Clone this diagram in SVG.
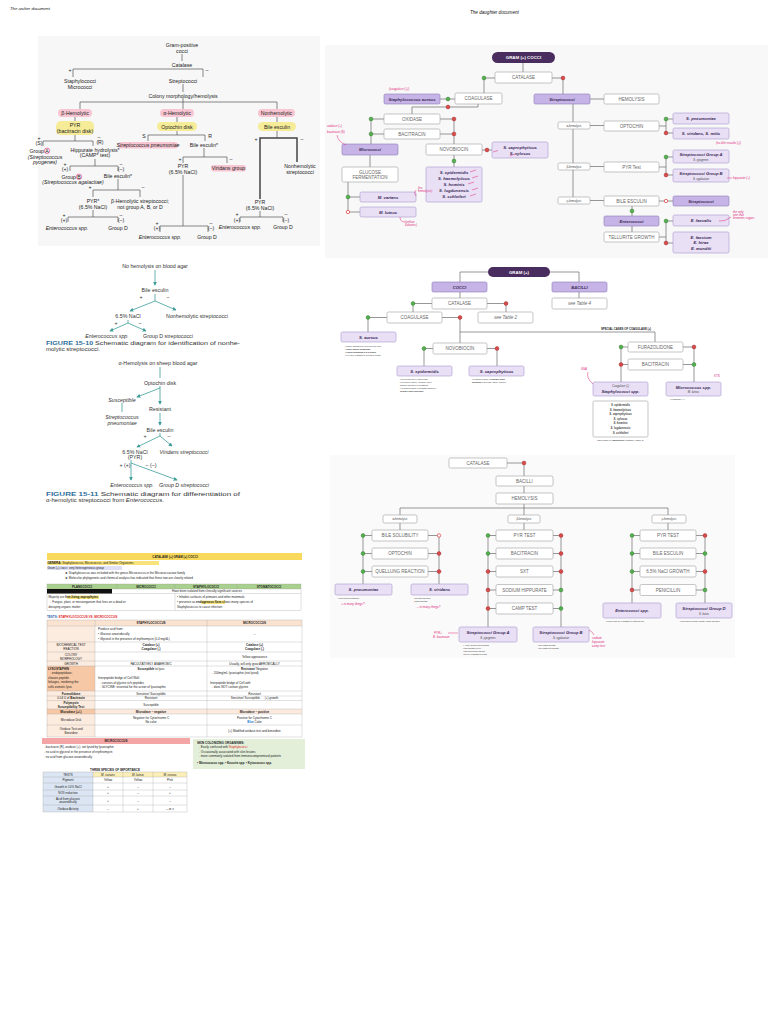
<svg xmlns="http://www.w3.org/2000/svg" width="768" height="1024" viewBox="0 0 768 1024">
<defs>
<style>
text{font-family:"Liberation Sans",Arial,sans-serif}
.tl{font-size:5.2px;fill:#222;text-anchor:middle}
.tli{font-size:5.2px;fill:#222;text-anchor:middle;font-style:italic}
.ln{stroke:#555;stroke-width:0.7;fill:none}
.lnb{stroke:#444;stroke-width:1.5;fill:none}
.pk{fill:#f8c6d3}
.yl{fill:#f6ec98}
.tm{font-size:5.3px;fill:#333;text-anchor:middle}
.tmi{font-size:5.3px;fill:#333;text-anchor:middle;font-style:italic}
.tt{stroke:#3e9d99;stroke-width:0.8;fill:none}
.tta{stroke:#3e9d99;stroke-width:0.8;fill:none;marker-end:url(#ta)}
.cap{font-size:6px;fill:#333}
.capb{font-weight:bold;fill:#2c6e9c}
.wb{fill:#fff;stroke:#a0a0a0;stroke-width:0.6}
.pb{fill:#c6b4e6;stroke:#8e7bbb;stroke-width:0.6}
.lp{fill:#e9e0f6;stroke:#a898cc;stroke-width:0.6}
.dp{fill:#4a2d5f}
.bt{font-size:4.5px;fill:#666;text-anchor:middle}
.pt{font-size:4.2px;fill:#3a2a56;text-anchor:middle;font-weight:bold;font-style:italic}
.st{font-size:2.8px;fill:#444;text-anchor:middle;font-style:italic}
.wt{font-size:4.4px;fill:#fff;text-anchor:middle;font-weight:bold}
.sm{font-size:3px;fill:#333;text-anchor:middle}
.cn{stroke:#6a6a6a;stroke-width:0.7;fill:none}
.g{fill:#55b04f;stroke:#2f7d2c;stroke-width:0.5}
.r{fill:#dc4b4b;stroke:#9e2a2a;stroke-width:0.5}
.ro{fill:#fff;stroke:#dc4b4b;stroke-width:0.8}
.tiny{font-size:2.2px;fill:#333}
.hw{font-size:3px;fill:#e0287a;font-style:italic}
.hwl{stroke:#e0287a;stroke-width:0.5;fill:none}
.tx{font-size:3px;fill:#222}
.txc{font-size:3px;fill:#222;text-anchor:middle}
.b{font-weight:bold}
.tb{stroke:#999;stroke-width:0.3;fill:none}
</style>
<marker id="ta" viewBox="0 0 6 6" refX="5" refY="3" markerWidth="5" markerHeight="5" orient="auto"><path d="M0,0 L6,3 L0,6 z" fill="#3e9d99"/></marker>
</defs>
<rect x="0" y="0" width="768" height="1024" fill="#fff"/>

<!-- headers -->
<text x="10" y="10" font-size="4.2" fill="#111" font-style="italic">The archer document</text>
<text x="470" y="14" font-size="4.6" fill="#111" font-style="italic">The daughter document</text>

<!-- ========== TOP-LEFT FLOWCHART ========== -->
<rect x="38" y="36" width="282" height="210" fill="#f7f7f7"/>
<g id="tl-connectors">
<path class="ln" d="M182,54 V61 M73,77 V69 H203 V77 M183,84 V92 M183,98 V102 M80,109 V102 H277 V109 M183,102 V109"/>
<path class="ln" d="M75,117 V121 M177,117 V122 M277,117 V122"/>
<path class="ln" d="M75,135 V141 M43,146 V141 H93 V146 M95,159 V166 M70,171 V166 H118 V171 M118,179 V190 M93,197 V190 H140 V197 M93,210 V217 M68,222 V217 H118 V222"/>
<path class="ln" d="M177,131 V135 M148,141 V135 H205 V141 M204,148 V157 M183,163 V157 H227 V163 M183,175 V226 M160,232 V226 H208 V232"/>
<path class="ln" d="M277,131 V138 M260,217 V211"/>
<path class="lnb" d="M297,162 V138 H260 V199"/>
<path class="ln" d="M240,222 V217 H283 V222"/>
</g>
<g id="tl-root"><text class="tl" x="182" y="47">Gram-positive</text><text class="tl" x="182" y="53">cocci</text></g>
<g id="tl-catalase"><text class="tl" x="182" y="66.5">Catalase</text><text class="tl" x="70" y="72">+</text><text class="tl" x="207" y="72">–</text></g>
<g id="tl-staph"><text class="tl" x="80" y="83">Staphylococci</text><text class="tl" x="80" y="89">Micrococci</text></g>
<g id="tl-strep"><text class="tl" x="183" y="83">Streptococci</text></g>
<g id="tl-colony"><text class="tl" x="183" y="97.5">Colony morphology/hemolysis</text></g>
<g id="tl-beta"><rect class="pk" x="58" y="109" width="34" height="8" rx="4"/><text class="tl" x="75" y="115">β-Hemolytic</text></g>
<g id="tl-alpha"><rect class="pk" x="160" y="109" width="34" height="8" rx="4"/><text class="tl" x="177" y="115">α-Hemolytic</text></g>
<g id="tl-non"><rect class="pk" x="258" y="109" width="37" height="8" rx="4"/><text class="tl" x="276.5" y="115">Nonhemolytic</text></g>
<g id="tl-pyr"><rect class="yl" x="56" y="121" width="38" height="14" rx="5"/><text class="tl" x="75" y="127">PYR</text><text class="tl" x="75" y="132.5">(bacitracin disk)</text></g>
<g id="tl-opto"><rect class="yl" x="157" y="122" width="40" height="9" rx="4.5"/><text class="tl" x="177" y="128.5">Optochin disk</text></g>
<g id="tl-bile1"><rect class="yl" x="258" y="122" width="38" height="9" rx="4.5"/><text class="tl" x="277" y="128.5">Bile esculin</text></g>
<g id="tl-groupA"><text class="tl" x="39" y="140">+</text><text class="tl" x="39" y="144.5">(S)</text><text class="tl" x="99" y="139">–</text><text class="tl" x="100" y="143.5">(R)</text>
<text class="tl" x="44" y="152.5" text-anchor="end" style="text-anchor:end">Group</text><circle cx="47" cy="150.8" r="2.7" fill="none" stroke="#e0287a" stroke-width="0.6"/><text class="tl" x="47" y="152.5">A</text>
<text class="tli" x="45" y="158.5">(Streptococcus</text><text class="tli" x="45" y="164">pyogenes)</text></g>
<g id="tl-hipp"><text class="tl" x="95" y="151.5">Hippurate hydrolysis*</text><text class="tl" x="95" y="157">(CAMP* test)</text></g>
<g id="tl-groupB"><text class="tl" x="65" y="165.5">+</text><text class="tl" x="65" y="171">(+)</text><text class="tl" x="121" y="165.5">–</text><text class="tl" x="121" y="171">(–)</text>
<text class="tl" x="76" y="178.5" style="text-anchor:end">Group</text><circle cx="79" cy="176.8" r="2.7" fill="none" stroke="#e0287a" stroke-width="0.6"/><text class="tl" x="79" y="178.5">B</text>
<text class="tli" x="73" y="184">(Streptococcus agalactiae)</text></g>
<g id="tl-bile2"><text class="tl" x="118" y="178">Bile esculin*</text><text class="tl" x="90" y="189">+</text><text class="tl" x="143" y="189">–</text></g>
<g id="tl-pyr2"><text class="tl" x="93" y="202.5">PYR*</text><text class="tl" x="93" y="208.5">(6.5% NaCl)</text></g>
<g id="tl-betanot"><text class="tl" x="140" y="202.5">β-Hemolytic streptococci;</text><text class="tl" x="140" y="208.5">not group A, B, or D</text></g>
<g id="tl-ent1"><text class="tl" x="64" y="217">+</text><text class="tl" x="64" y="222">(+)</text><text class="tl" x="121" y="217">–</text><text class="tl" x="121" y="222">(–)</text><text class="tli" x="67" y="229.5">Enterococcus spp.</text><text class="tl" x="118" y="229.5">Group D</text></g>
<g id="tl-pneumo"><text class="tl" x="144" y="138">S</text><text class="tl" x="210" y="138">R</text><rect class="pk" x="118" y="142" width="60" height="6.5" rx="3"/><text class="tli" x="148" y="147">Streptococcus pneumoniae</text></g>
<g id="tl-bile3"><text class="tl" x="204" y="147">Bile esculin*</text><text class="tl" x="180" y="161">+</text><text class="tl" x="231" y="161">–</text></g>
<g id="tl-pyr3"><text class="tl" x="183" y="167.5">PYR</text><text class="tl" x="183" y="173.5">(6.5% NaCl)</text></g>
<g id="tl-viridans"><rect class="pk" x="211" y="165" width="35" height="6.5" rx="3"/><text class="tl" x="228.5" y="170">Viridans group</text></g>
<g id="tl-ent2"><text class="tl" x="157" y="224.5">+</text><text class="tl" x="157" y="229.5">(+)</text><text class="tl" x="211" y="224.5">–</text><text class="tl" x="211" y="229.5">(–)</text><text class="tli" x="160" y="238.5">Enterococcus spp.</text><text class="tl" x="207" y="238.5">Group D</text></g>
<g id="tl-nonstrep"><text class="tl" x="256" y="141">+</text><text class="tl" x="302" y="141">–</text><text class="tl" x="300" y="167.5">Nonhemolytic</text><text class="tl" x="300" y="173.5">streptococci</text></g>
<g id="tl-pyr4"><text class="tl" x="260" y="203.5">PYR</text><text class="tl" x="260" y="209.5">(6.5% NaCl)</text></g>
<g id="tl-ent3"><text class="tl" x="237" y="216">+</text><text class="tl" x="237" y="221.5">(+)</text><text class="tl" x="286" y="216">–</text><text class="tl" x="286" y="221.5">(–)</text><text class="tli" x="240" y="228.5">Enterococcus spp.</text><text class="tl" x="283" y="228.5">Group D</text></g>

<!-- ========== LEFT-MIDDLE (FIGURES 15-10, 15-11) ========== -->
<g id="lm-connectors">
<path class="tta" d="M155,270 V285"/>
<path class="tt" d="M155,294 V301"/>
<path class="tta" d="M155,301 L130,311"/><path class="tta" d="M155,301 L176,310"/>
<path class="tt" d="M128,320 V323"/>
<path class="tta" d="M128,323 L110,331"/><path class="tta" d="M128,323 L146,331"/>
<path class="tt" d="M160,367 V378 M160,386 V388 M122,403 V412"/>
<path class="tta" d="M160,388 L137,397"/><path class="tta" d="M160,388 V404"/>
<path class="tta" d="M160,413 V425"/>
<path class="tt" d="M160,433 V436"/>
<path class="tta" d="M160,436 L137,447"/><path class="tta" d="M160,436 L172,446"/>
<path class="tt" d="M131,460 V463"/>
<path class="tta" d="M131,463 V480"/><path class="tta" d="M131,463 L177,480"/>
</g>
<g id="lm-nohemo"><text class="tm" x="155" y="268">No hemolysis on blood agar</text></g>
<g id="lm-bile1"><text class="tm" x="155" y="291.5">Bile esculin</text><text class="tm" x="141" y="298.5">+</text><text class="tm" x="168" y="298.5">–</text></g>
<g id="lm-nacl1"><text class="tm" x="128" y="317.5">6.5% NaCl</text><text class="tm" x="116" y="325">+</text><text class="tm" x="140" y="325">–</text></g>
<g id="lm-nonstrep"><text class="tm" x="197" y="317.5">Nonhemolytic streptococci</text></g>
<g id="lm-ent1"><text class="tmi" x="107" y="338">Enterococcus spp.</text></g>
<g id="lm-grd1"><text class="tm" x="168" y="338">Group D streptococci</text></g>
<text class="cap" x="46" y="344.5" textLength="194" lengthAdjust="spacingAndGlyphs"><tspan class="capb">FIGURE 15-10</tspan> Schematic diagram for identification of nonhe-</text>
<text class="cap" x="46" y="351">molytic streptococci.</text>
<g id="lm-alpha"><text class="tm" x="158" y="364.5">α-Hemolysis on sheep blood agar</text></g>
<g id="lm-opto"><text class="tm" x="160" y="385">Optochin disk</text></g>
<g id="lm-susc"><text class="tmi" x="122" y="401.5">Susceptible</text></g>
<g id="lm-pneumo"><text class="tmi" x="122" y="418.5">Streptococcus</text><text class="tmi" x="122" y="424.5">pneumoniae</text></g>
<g id="lm-resist"><text class="tm" x="160" y="411">Resistant</text></g>
<g id="lm-bile2"><text class="tm" x="160" y="431.5">Bile esculin</text><text class="tm" x="145" y="438">+</text><text class="tm" x="169" y="438">–</text></g>
<g id="lm-nacl2"><text class="tm" x="135" y="453.5">6.5% NaCl</text><text class="tm" x="135" y="459">(PYR)</text><text class="tm" x="125" y="467">+ (+)</text><text class="tm" x="151" y="467">– (–)</text></g>
<g id="lm-viridans"><text class="tmi" x="184" y="453.5">Viridans streptococci</text></g>
<g id="lm-ent2"><text class="tmi" x="132" y="486.5">Enterococcus spp.</text></g>
<g id="lm-grd2"><text class="tmi" x="184" y="486.5">Group D streptococci</text></g>
<text class="cap" x="46" y="495.5" textLength="194" lengthAdjust="spacingAndGlyphs"><tspan class="capb">FIGURE 15-11</tspan> Schematic diagram for differentiation of</text>
<text class="cap" x="46" y="502">α-hemolytic streptococci from <tspan font-style="italic">Enterococcus</tspan>.</text>

<!-- ========== NOTES TABLE (LEFT BOTTOM) ========== -->
<g id="notes">
<rect x="47" y="553" width="255" height="7" fill="#f8d95c"/>
<text class="txc b" x="175" y="558.3" font-size="3.6">CATALASE (+) GRAM (+) COCCI</text>
<rect x="47" y="561" width="112" height="4" fill="#f8e27a"/>
<text class="tx" x="47.5" y="564.2"><tspan class="b">GENERA:</tspan> Staphylococcus, Micrococcus, and Similar Organisms</text>
<rect x="47" y="566" width="75" height="4" fill="#dfe0f5"/>
<text class="tx" x="47.5" y="569.2">Gram (+) cocci: very heterogeneous group</text>
<text class="tx" x="65" y="574">❖ Staphylococcus was included with the genus Micrococcus in the Micrococcaceae family</text>
<text class="tx" x="65" y="579">❖ Molecular phylogenetic and chemical analysis has indicated that these two are closely related</text>

<rect x="47" y="584" width="254" height="5" fill="#a9d08e"/>
<rect x="47" y="584" width="254" height="26.5" class="tb"/>
<path class="tb" d="M117,584 V589 M175,584 V589 M237,584 V589 M47,589 H301 M47,593.5 H301 M175,593.5 V610.5"/>
<text class="txc b" x="82" y="587.6" font-size="2.8">PLANOCOCCI</text>
<text class="txc b" x="146" y="587.6" font-size="2.8">MICROCOCCI</text>
<text class="txc b" x="206" y="587.6" font-size="2.8">STAPHYLOCOCCI</text>
<text class="txc b" x="269" y="587.6" font-size="2.8">STOMATOCOCCI</text>
<rect x="47" y="589" width="65" height="4.5" fill="#111"/>
<text class="txc" x="207" y="592.4">Have been isolated from clinically significant sources</text>
<rect x="67" y="595.6" width="32" height="3.4" fill="#f8e27a"/>
<text class="tx" x="48.5" y="598.3">Majority are <tspan class="b">free-living saprophytes</tspan></text>
<text class="tx" x="48.5" y="603.3">→ Fungus, plant, or microorganism that lives on a dead or</text>
<text class="tx" x="48.5" y="608.3">decaying organic matter</text>
<text class="tx" x="177" y="598.3">• Inhabits surfaces of primates and other mammals</text>
<rect x="201" y="600.6" width="24" height="3.4" fill="#f8e27a"/>
<text class="tx" x="177" y="603.3">• presence as <tspan class="b">endogenous flora</tspan> allows many species of</text>
<text class="tx" x="177" y="608.3">Staphylococcus to cause infection</text>

<text class="tx b" x="47" y="617.6" font-size="3.3"><tspan fill="#2b5ea8">TESTS:</tspan> <tspan fill="#e02020">STAPHYLOCOCCUS VS. MICROCOCCUS</tspan></text>
<rect x="47" y="620" width="255" height="6" fill="#fbe3d1"/>
<rect x="47" y="626" width="48" height="111" fill="#fcebdf"/>
<rect x="47" y="666" width="48" height="25" fill="#f7c8a6"/>
<rect x="47" y="709" width="255" height="5" fill="#fdeadf"/>
<rect x="47" y="709" width="48" height="5" fill="#f7c8a6"/>
<rect x="47" y="620" width="255" height="117" class="tb"/>
<path class="tb" d="M95,620 V737 M207,620 V737 M47,626 H302 M47,642 H302 M47,652 H302 M47,661 H302 M47,666 H302 M47,691 H302 M47,696 H302 M47,700.5 H302 M47,709 H302 M47,714 H302 M47,725 H302"/>
<text class="txc b" x="151" y="624.2">STAPHYLOCOCCUS</text>
<text class="txc b" x="254.5" y="624.2">MICROCOCCUS</text>
<text class="tx" x="98" y="629.5">Produce acid from:</text>
<text class="tx" x="98" y="634.5">• Glucose anaerobically</text>
<text class="tx" x="98" y="639.5">• Glycerol in the presence of erythromycin (0.4 mg/dL)</text>
<text class="txc" x="254.5" y="635">–</text>
<text class="txc" x="71" y="645.8">BIOCHEMICAL TEST</text><text class="txc" x="71" y="650">REACTION</text>
<text class="txc b" x="151" y="645.8">Catalase (+)</text><text class="txc b" x="151" y="650">Coagulase (-)</text>
<text class="txc b" x="254.5" y="645.8">Catalase (+)</text><text class="txc b" x="254.5" y="650">Coagulase (-)</text>
<text class="txc" x="71" y="655.8">COLONY</text><text class="txc" x="71" y="659.8">MORPHOLOGY</text>
<text class="txc" x="254.5" y="658">Yellow appearance</text>
<text class="txc" x="71" y="664.6">GROWTH</text>
<text class="txc" x="151" y="664.6">FACULTATIVELY ANAEROBIC</text>
<text class="txc" x="254.5" y="664.6">Usually, will only grow AEROBICALLY</text>
<text class="tx b" x="48" y="669.6">LYSOSTAPHIN</text>
<text class="tx" x="48" y="674.2">→ endopeptidase;</text>
<text class="tx" x="48" y="678.6">cleaves peptide</text>
<text class="tx" x="48" y="683">linkages, rendering the</text>
<text class="tx" x="48" y="687.6">cells osmotic lysis</text>
<text class="txc" x="151" y="669.6"><tspan class="b">Susceptible</tspan> to lysis</text>
<text class="tx" x="98" y="679.2">Interpeptide bridge of Cell Wall:</text>
<text class="tx" x="98" y="683.6">→ consists of glycine rich peptides</text>
<text class="tx" x="98" y="688.2">→ GLYCINE: essential for the action of lysostaphin</text>
<text class="txc" x="254.5" y="669.6"><tspan class="b">Resistant</tspan>/ Negative</text>
<text class="tx" x="210" y="674.2">→ 200mg/mL lysostaphin (not lysed)</text>
<text class="tx" x="210" y="683.6">Interpeptide bridge of Cell with</text>
<text class="tx" x="210" y="688.2">→ does NOT contain glycine</text>
<text class="txc b" x="71" y="694.6">Furazolidone</text>
<text class="txc" x="151" y="694.6">Sensitive/ Susceptible</text>
<text class="txc" x="254.5" y="694.6">Resistant</text>
<text class="txc" x="71" y="699.4">0.04 U of <tspan class="b">Bacitracin</tspan></text>
<text class="txc" x="151" y="699.4">Resistant</text>
<text class="txc" x="254.5" y="699.4">Sensitive/ Susceptible → (+) growth</text>
<text class="txc b" x="71" y="704.3">Polymyxin</text><text class="txc b" x="71" y="708">Susceptibility Test</text>
<text class="txc" x="151" y="705.8">Susceptible</text>
<text class="txc b" x="71" y="712.6">Microdase (+/-)</text>
<text class="txc b" x="151" y="712.6">Microdase – negative</text>
<text class="txc b" x="254.5" y="712.6">Microdase – positive</text>
<text class="txc" x="71" y="720.6">Microdase Disk</text>
<text class="txc" x="151" y="718.6">Negative for Cytochrome C</text><text class="txc" x="151" y="722.6">No color</text>
<text class="txc" x="254.5" y="718.6">Positive for Cytochrome C</text><text class="txc" x="254.5" y="722.6"><tspan fill="#1a7ad6" class="b">Blue</tspan> Color</text>
<text class="txc" x="71" y="729.8">Oxidase Test and</text><text class="txc" x="71" y="734">Benzidine</text>
<text class="txc" x="254.5" y="732">(+) Modified oxidase test and benzidine</text>

<rect x="42" y="738" width="148" height="6" fill="#f4a5a5"/>
<text class="txc b" x="116" y="742.4" font-size="3.4">MICROCOCCUS</text>
<text class="tx" x="42" y="748.3">→ bacitracin (R), oxidase (+), not lysed by lysostaphin</text>
<text class="tx" x="42" y="753.3">→ no acid in glycerol in the presence of erythromycin</text>
<text class="tx" x="42" y="758.3">→ no acid from glucose anaerobically</text>

<rect x="193" y="739" width="112" height="30" fill="#e3efd9"/>
<text class="tx b" x="197" y="743.6" fill="#4a7a2a">SKIN COLONIZING ORGANISMS:</text>
<text class="tx" x="197" y="748.4">→ Easily confused with <tspan fill="#e02020">Staphylococci</tspan></text>
<text class="tx" x="197" y="752.8">→ Occasionally associated with skin lesions</text>
<text class="tx" x="197" y="757.2">→ more commonly isolated from immunocompromised patients</text>
<text class="tx b" x="197" y="763.6">• Micrococcus spp.    • Kocuria spp.    • Kytococcus spp.</text>

<text class="txc b" x="115" y="770.6" fill="#e8a020">THREE SPECIES OF IMPORTANCE</text>
<rect x="43" y="772" width="50" height="40" fill="#dbe5f3"/>
<rect x="93" y="772" width="94" height="5" fill="#fbeeb8"/>
<rect x="43" y="772" width="144" height="40" class="tb"/>
<path class="tb" d="M93,772 V812 M123,772 V812 M153,772 V812 M43,777 H187 M43,783 H187 M43,790 H187 M43,796 H187 M43,805 H187"/>
<text class="txc" x="68" y="775.6">TESTS</text>
<text class="txc" x="108" y="775.6" font-style="italic">M. varians</text>
<text class="txc" x="138" y="775.6" font-style="italic">M. luteus</text>
<text class="txc" x="170" y="775.6" font-style="italic">M. roseus</text>
<text class="txc" x="68" y="781">Pigment</text><text class="txc" x="108" y="781">Yellow</text><text class="txc" x="138" y="781">Yellow</text><text class="txc" x="170" y="781">Pink</text>
<text class="txc" x="68" y="787.6">Growth in 10% NaCl</text><text class="txc" x="108" y="787.6">+</text><text class="txc" x="138" y="787.6">–</text><text class="txc" x="170" y="787.6">–</text>
<text class="txc" x="68" y="794">NO3 reduction</text><text class="txc" x="108" y="794">+</text><text class="txc" x="138" y="794">–</text><text class="txc" x="170" y="794">+</text>
<text class="txc" x="68" y="799.6">Acid from glucose</text><text class="txc" x="68" y="803.2">anaerobically</text><text class="txc" x="108" y="801.6">+</text><text class="txc" x="138" y="801.6">–</text><text class="txc" x="170" y="801.6">–</text>
<text class="txc" x="68" y="809.6">Oxidase Activity</text><text class="txc" x="108" y="809.6">–</text><text class="txc" x="138" y="809.6">+</text><text class="txc" x="170" y="809.6">– or ±</text>
</g>

<!-- ========== TOP-RIGHT FLOWCHART ========== -->
<rect x="325" y="45" width="443" height="213" fill="#f8f8f8"/>
<g id="tr-connectors">
<path class="cn" d="M523,63 V72 M495,78 H484 V93 M552,78 H563 V94 M440,99 H455 M478,104 V107 H412 V114"/>
<path class="cn" d="M384,119 H371 V144 M384,134 H371 M440,119 H454 V144 M440,134 H454 M482,150 H492 M454,155 V167 M370,155 V167 M348,182 V212 M348,197 H360 M348,212 H360"/>
<path class="cn" d="M590,99 H604 M573,104 V122 M573,129 V163 M573,170 V197 M590,125.5 H604 M659,126 H666 M666,119 V133 H673 M666,119 H673 M590,166.5 H604 M659,167 H666 M666,157 V175 H673 M666,157 H673 M590,200.5 H604 M659,201 H673 M632,206 V216 M632,226 V232 M659,237 H666 M666,221 V243 H673 M666,221 H673"/>
<circle class="g" cx="484" cy="78" r="1.9"/><circle class="r" cx="563" cy="78" r="1.9"/>
<circle class="g" cx="448" cy="99" r="1.9"/><circle class="r" cx="448" cy="107" r="1.9"/>
<circle class="g" cx="371" cy="119" r="1.9"/><circle class="g" cx="371" cy="134" r="1.9"/>
<circle class="r" cx="454" cy="119" r="1.9"/><circle class="r" cx="454" cy="134" r="1.9"/>
<circle class="r" cx="487" cy="150" r="1.9"/><circle class="g" cx="454" cy="161" r="1.9"/>
<circle class="g" cx="348" cy="197" r="1.9"/><circle class="ro" cx="348" cy="212" r="1.7"/>
<circle class="g" cx="666" cy="119" r="1.9"/><circle class="r" cx="666" cy="133" r="1.9"/>
<circle class="g" cx="666" cy="157" r="1.9"/><circle class="r" cx="666" cy="175" r="1.9"/>
<circle class="ro" cx="666" cy="201" r="1.7"/><circle class="g" cx="632" cy="211" r="1.9"/>
<circle class="g" cx="666" cy="221" r="1.9"/><circle class="r" cx="666" cy="243" r="1.9"/>
</g>
<g id="tr-gram"><rect class="dp" x="492" y="52" width="63" height="11" rx="5.5"/><text class="wt" x="523.5" y="59.2">GRAM (+) COCCI</text></g>
<g id="tr-catalase"><rect class="wb" x="495" y="72" width="57" height="11" rx="1.5"/><text class="bt" x="523.5" y="79.4">CATALASE</text></g>
<g id="tr-coagulase"><rect class="wb" x="455" y="93" width="47" height="11" rx="1.5"/><text class="bt" x="478.5" y="100.4">COAGULASE</text></g>
<g id="tr-aureus"><rect class="pb" x="384" y="94" width="56" height="10" rx="1.5"/><text class="pt" x="412" y="100.5">Staphylococcus aureus</text></g>
<g id="tr-strep"><rect class="pb" x="534" y="94" width="56" height="10" rx="1.5"/><text class="pt" x="562" y="100.5">Streptococci</text></g>
<g id="tr-oxidase"><rect class="wb" x="384" y="114" width="56" height="10" rx="1.5"/><text class="bt" x="412" y="120.6">OXIDASE</text></g>
<g id="tr-bacitracin"><rect class="wb" x="384" y="129" width="56" height="10" rx="1.5"/><text class="bt" x="412" y="135.6">BACITRACIN</text></g>
<g id="tr-micrococci"><rect class="pb" x="342" y="144" width="56" height="11" rx="1.5"/><text class="pt" x="370" y="151">Micrococci</text></g>
<g id="tr-novobiocin"><rect class="wb" x="426" y="144" width="56" height="11" rx="1.5"/><text class="bt" x="454" y="151.2">NOVOBIOCIN</text></g>
<g id="tr-sapro"><rect class="lp" x="492" y="142" width="56" height="16" rx="1.5"/><text class="pt" x="520" y="149">S. saprophyticus</text><text class="pt" x="520" y="155">S. xylosus</text></g>
<g id="tr-epi"><rect class="lp" x="426" y="167" width="56" height="35" rx="1.5"/><text class="pt" x="454" y="174">S. epidermidis</text><text class="pt" x="454" y="180">S. haemolyticus</text><text class="pt" x="454" y="186">S. hominis</text><text class="pt" x="454" y="192">S. lugdunensis</text><text class="pt" x="454" y="198">S. schleiferi</text></g>
<g id="tr-glucose"><rect class="wb" x="342" y="167" width="56" height="15" rx="1.5"/><text class="bt" x="370" y="173.5">GLUCOSE</text><text class="bt" x="370" y="179">FERMENTATION</text></g>
<g id="tr-varians"><rect class="lp" x="360" y="192" width="56" height="10" rx="1.5"/><text class="pt" x="388" y="198.5">M. varians</text></g>
<g id="tr-luteus"><rect class="lp" x="360" y="207" width="56" height="10" rx="1.5"/><text class="pt" x="388" y="213.5">M. luteus</text></g>
<g id="tr-hemolysis"><rect class="wb" x="604" y="94" width="55" height="10" rx="1.5"/><text class="bt" x="631.5" y="100.5">HEMOLYSIS</text></g>
<g id="tr-alpha"><rect class="wb" x="558" y="122" width="32" height="7" rx="1.5"/><text class="st" x="574" y="126.6">α-hemolysis</text></g>
<g id="tr-beta"><rect class="wb" x="558" y="163" width="32" height="7" rx="1.5"/><text class="st" x="574" y="167.6">β-hemolysis</text></g>
<g id="tr-gamma"><rect class="wb" x="558" y="197" width="32" height="7" rx="1.5"/><text class="st" x="574" y="201.6">γ-hemolysis</text></g>
<g id="tr-optochin"><rect class="wb" x="604" y="121" width="55" height="10" rx="1.5"/><text class="bt" x="631.5" y="127.6">OPTOCHIN</text></g>
<g id="tr-pneumo"><rect class="lp" x="673" y="113" width="56" height="11" rx="1.5"/><text class="pt" x="701" y="120">S. pneumoniae</text></g>
<g id="tr-viridans"><rect class="lp" x="673" y="128" width="56" height="11" rx="1.5"/><text class="pt" x="701" y="135">S. viridans, S. mitis</text></g>
<g id="tr-pyr"><rect class="wb" x="604" y="162" width="55" height="10" rx="1.5"/><text class="bt" x="631.5" y="168.6">PYR Test</text></g>
<g id="tr-grpA"><rect class="lp" x="673" y="150" width="56" height="13" rx="1.5"/><text class="pt" x="701" y="156">Streptococci Group A</text><text class="st" x="701" y="160.6">S. pyogenes</text></g>
<g id="tr-grpB"><rect class="lp" x="673" y="169" width="56" height="13" rx="1.5"/><text class="pt" x="701" y="175">Streptococci Group B</text><text class="st" x="701" y="179.6">S. agalactiae</text></g>
<g id="tr-bile"><rect class="wb" x="604" y="196" width="55" height="10" rx="1.5"/><text class="bt" x="631.5" y="202.6">BILE ESCULIN</text></g>
<g id="tr-strep2"><rect class="pb" x="673" y="196" width="56" height="10" rx="1.5"/><text class="pt" x="701" y="202.5">Streptococci</text></g>
<g id="tr-entero"><rect class="pb" x="604" y="216" width="55" height="10" rx="1.5"/><text class="pt" x="631.5" y="222.5">Enterococci</text></g>
<g id="tr-tellurite"><rect class="wb" x="604" y="232" width="55" height="10" rx="1.5"/><text class="bt" x="631.5" y="238.6">TELLURITE GROWTH</text></g>
<g id="tr-faecalis"><rect class="lp" x="673" y="215" width="56" height="11" rx="1.5"/><text class="pt" x="701" y="222">E. faecalis</text></g>
<g id="tr-faecium"><rect class="lp" x="673" y="232" width="56" height="21" rx="1.5"/><text class="pt" x="701" y="238.5">E. faecium</text><text class="pt" x="701" y="244">E. hirae</text><text class="pt" x="701" y="249.5">E. mundtii</text></g>
<g id="tr-notes">
<text class="hw" x="389" y="90">(coagulase (+))</text>
<text class="hw" x="327" y="127">oxidase (+)</text><text class="hw" x="327" y="133">bacitracin (S)</text>
<path class="hwl" d="M337,135 Q338,142 346,145"/>
<path class="hwl" d="M493,152 l5,-1.5 M510,156 l5,-2 M470,172 l6,-2 M472,178 l6,-2 M468,184 l6,-2 M472,190 l6,-2 M470,196 l6,-2"/>
<text class="hw" x="418" y="189" font-size="2.4">(no</text><text class="hw" x="418" y="192" font-size="2.4">hemolysis)</text>
<path class="hwl" d="M416,190 q-3,3 0,6"/>
<text class="hw" x="405" y="223" font-size="2.4">(yellow</text><text class="hw" x="405" y="226" font-size="2.4">colonies)</text>
<path class="hwl" d="M400,217 q0,5 5,5"/>
<text class="hw" x="716" y="143.5" font-size="2.6">(no bile esculin (-))</text>
<path class="hwl" d="M727,178 h5"/><text class="hw" x="733" y="179" font-size="2.6">hippurate (+)</text>
<path class="hwl" d="M719,221 q6,1 12,-4"/><text class="hw" x="733" y="213" font-size="2.4">the only</text><text class="hw" x="733" y="216" font-size="2.4">one that</text><text class="hw" x="733" y="219" font-size="2.4">ferments sugars</text>
</g>

<!-- ========== MIDDLE-RIGHT FLOWCHART ========== -->
<g id="mr-connectors">
<path class="cn" d="M488,272 H460 V282 M550,272 H579 V282 M460,292 V298 M579,292 V298 M432,303.5 H413 V312 M487,303.5 H506 V312 M387,317.5 H368 V332 M442,317.5 H460 V343 M460,332 H655 V342 M433,348.5 H424 V366 M487,348.5 H497 V366"/>
<path class="cn" d="M628,347 H621 V382 M628,364.5 H621 M683,347 H694 V382 M683,364.5 H694"/>
<circle class="g" cx="413" cy="303.5" r="1.9"/><circle class="r" cx="506" cy="303.5" r="1.9"/>
<circle class="g" cx="368" cy="317.5" r="1.9"/><circle class="r" cx="460" cy="317.5" r="1.9"/>
<circle class="g" cx="424" cy="348.5" r="1.9"/><circle class="r" cx="497" cy="348.5" r="1.9"/>
<circle class="g" cx="621" cy="347" r="1.9"/><circle class="r" cx="621" cy="364.5" r="1.9"/>
<circle class="r" cx="694" cy="347" r="1.9"/><circle class="g" cx="694" cy="364.5" r="1.9"/>
</g>
<g id="mr-gram"><rect class="dp" x="488" y="267" width="62" height="10" rx="5"/><text class="wt" x="519" y="273.8">GRAM (+)</text></g>
<g id="mr-cocci"><rect class="pb" x="432" y="282" width="55" height="10" rx="1.5"/><text class="pt" x="459.5" y="288.5" font-style="normal">COCCI</text></g>
<g id="mr-bacilli"><rect class="pb" x="552" y="282" width="55" height="10" rx="1.5"/><text class="pt" x="579.5" y="288.5" font-style="normal">BACILLI</text></g>
<g id="mr-catalase"><rect class="wb" x="432" y="298" width="55" height="11" rx="1.5"/><text class="bt" x="459.5" y="305.2">CATALASE</text></g>
<g id="mr-table4"><rect class="wb" x="552" y="298" width="55" height="11" rx="1.5"/><text class="bt" x="579.5" y="305" font-style="italic" font-size="4">see Table 4</text></g>
<g id="mr-coagulase"><rect class="wb" x="387" y="312" width="55" height="11" rx="1.5"/><text class="bt" x="414.5" y="319.2">COAGULASE</text></g>
<g id="mr-table2"><rect class="wb" x="478" y="312" width="55" height="11" rx="1.5"/><text class="bt" x="505.5" y="319" font-style="italic" font-size="4">see Table 2</text></g>
<g id="mr-aureus"><rect class="lp" x="341" y="332" width="55" height="10" rx="1.5"/><text class="pt" x="368.5" y="338.5">S. aureus</text>
<text class="tiny" x="345" y="347">• small, translucent, β-hemolytic zone</text><text class="tiny b" x="345" y="350">• Toxic Shock Syndrome</text><text class="tiny b" x="345" y="353">• Food Poisoning in 2-6 hours</text><text class="tiny" x="345" y="356">• 90-95% resistant to penicillin (PCN)</text></g>
<g id="mr-novobiocin"><rect class="wb" x="433" y="343" width="54" height="11" rx="1.5"/><text class="bt" x="460" y="350.2">NOVOBIOCIN</text></g>
<g id="mr-epi"><rect class="lp" x="397" y="366" width="55" height="10" rx="1.5"/><text class="pt" x="424.5" y="372.5">S. epidermidis</text>
<text class="tiny" x="400" y="380">• not hemolytic (γ-hemolysis)</text><text class="tiny" x="400" y="383">• produces "slime" (biofilm) often</text><text class="tiny" x="400" y="386">  causes infection of prosthetic</text><text class="tiny" x="400" y="389">• common cause of hospital-acquired</text><text class="tiny b" x="400" y="392">  Urinary Tract Infection</text></g>
<g id="mr-sapro"><rect class="lp" x="469" y="366" width="55" height="10" rx="1.5"/><text class="pt" x="496.5" y="372.5">S. saprophyticus</text>
<text class="tiny" x="472" y="380">• common cause of <tspan class="b">Urinary Tract</tspan></text><text class="tiny" x="472" y="383"><tspan class="b">Infection</tspan> in sexually active women</text></g>
<text x="626" y="329.5" font-size="2.8" font-weight="bold" fill="#222" text-anchor="middle">SPECIAL CASES OF COAGULASE (+)</text>
<g id="mr-furaz"><rect class="wb" x="628" y="342" width="55" height="10" rx="1.5"/><text class="bt" x="655.5" y="348.6">FURAZOLIDONE</text></g>
<g id="mr-bacitracin"><rect class="wb" x="628" y="359" width="55" height="11" rx="1.5"/><text class="bt" x="655.5" y="366">BACITRACIN</text></g>
<g id="mr-staphspp"><rect class="lp" x="593" y="382" width="55" height="14" rx="1.5"/><text class="st" x="620.5" y="387" font-style="normal">Coagulase (-)</text><text class="pt" x="620.5" y="393" font-style="normal">Staphylococci spp.</text></g>
<g id="mr-microspp"><rect class="lp" x="666" y="382" width="55" height="14" rx="1.5"/><text class="pt" x="693.5" y="388.5" font-style="normal">Micrococcus spp.</text><text class="st" x="693.5" y="393">M. luteus</text>
<text class="tiny" x="670" y="399.5">• coagulase (+)</text></g>
<g id="mr-stlist"><rect class="wb" x="593" y="401" width="55" height="36" rx="1.5"/>
<text class="st" x="620.5" y="406" font-weight="bold">S. epidermidis</text><text class="st" x="620.5" y="410.6" font-weight="bold">S. haemolyticus</text><text class="st" x="620.5" y="415.2" font-weight="bold">S. saprophyticus</text><text class="st" x="620.5" y="419.8" font-weight="bold">S. xylosus</text><text class="st" x="620.5" y="424.4" font-weight="bold">S. hominis</text><text class="st" x="620.5" y="429" font-weight="bold">S. lugdunensis</text><text class="st" x="620.5" y="433.6" font-weight="bold">S. schleiferi</text>
<text class="tiny" x="620.5" y="440.5" text-anchor="middle">differentiate by <tspan class="b">Novobiocin</tspan> resistance (Table 2)</text></g>
<g id="mr-notes">
<text class="hw" x="581" y="370" font-size="2.6">SSA</text><path class="hwl" d="M588,372 q-2,6 5,12"/>
<text class="hw" x="714" y="377" font-size="2.6">KTS</text>
</g>

<!-- ========== BOTTOM-RIGHT FLOWCHART ========== -->
<rect x="330" y="455" width="405" height="203" fill="#fafafa"/>
<g id="br-connectors">
<path class="cn" d="M507,463 H524 V476 M524,486 V493 M524,504 V508 M400,508 H668 M400,508 V515 M524,508 V515 M668,508 V515 M400,523 V530 M524,523 V530 M668,523 V530"/>
<path class="cn" d="M372,535.5 H363 V584 M372,553.5 H363 M372,571.5 H363 M428,535.5 H439 V584 M428,553.5 H439 M428,571.5 H439"/>
<path class="cn" d="M496,535.5 H488 V627 M496,553.5 H488 M496,571.5 H488 M496,590 H488 M496,608.5 H488 M553,535.5 H561 V627 M553,553.5 H561 M553,571.5 H561 M553,590 H561 M553,608.5 H561"/>
<path class="cn" d="M640,535.5 H632 V603 M640,553.5 H632 M640,571.5 H632 M640,590 H632 M696,535.5 H705 V603 M696,553.5 H705 M696,571.5 H705 M696,590 H705"/>
<circle class="r" cx="524" cy="463" r="1.9"/>
<circle class="g" cx="363" cy="535.5" r="1.9"/><circle class="g" cx="363" cy="553.5" r="1.9"/><circle class="g" cx="363" cy="571.5" r="1.9"/>
<circle class="ro" cx="439" cy="535.5" r="1.7"/><circle class="r" cx="439" cy="553.5" r="1.9"/><circle class="r" cx="439" cy="571.5" r="1.9"/>
<circle class="g" cx="488" cy="535.5" r="1.9"/><circle class="g" cx="488" cy="553.5" r="1.9"/><circle class="r" cx="488" cy="571.5" r="1.9"/><circle class="r" cx="488" cy="590" r="1.9"/><circle class="r" cx="488" cy="608.5" r="1.9"/>
<circle class="r" cx="561" cy="535.5" r="1.9"/><circle class="r" cx="561" cy="553.5" r="1.9"/><circle class="r" cx="561" cy="571.5" r="1.9"/><circle class="g" cx="561" cy="590" r="1.9"/><circle class="g" cx="561" cy="608.5" r="1.9"/>
<circle class="g" cx="632" cy="535.5" r="1.9"/><circle class="g" cx="632" cy="553.5" r="1.9"/><circle class="g" cx="632" cy="571.5" r="1.9"/><circle class="r" cx="632" cy="590" r="1.9"/>
<circle class="r" cx="705" cy="535.5" r="1.9"/><circle class="g" cx="705" cy="553.5" r="1.9"/><circle class="r" cx="705" cy="571.5" r="1.9"/><circle class="g" cx="705" cy="590" r="1.9"/>
</g>
<g id="br-catalase"><rect class="wb" x="449" y="458" width="58" height="10" rx="1.5"/><text class="bt" x="478" y="464.6">CATALASE</text></g>
<g id="br-bacilli"><rect class="wb" x="496" y="476" width="57" height="10" rx="1.5"/><text class="bt" x="524.5" y="482.6">BACILLI</text></g>
<g id="br-hemolysis"><rect class="wb" x="496" y="493" width="57" height="11" rx="1.5"/><text class="bt" x="524.5" y="500.2">HEMOLYSIS</text></g>
<g id="br-alpha"><rect class="wb" x="383" y="515" width="34" height="8" rx="1.5"/><text class="st" x="400" y="520">α-hemolysis</text></g>
<g id="br-beta"><rect class="wb" x="508" y="515" width="32" height="8" rx="1.5"/><text class="st" x="524" y="520">β-hemolysis</text></g>
<g id="br-gamma"><rect class="wb" x="652" y="515" width="34" height="8" rx="1.5"/><text class="st" x="669" y="520">γ-hemolysis</text></g>
<g id="br-bilesol"><rect class="wb" x="372" y="530" width="56" height="11" rx="1.5"/><text class="bt" x="400" y="537.2">BILE SOLUBILITY</text></g>
<g id="br-optochin"><rect class="wb" x="372" y="548" width="56" height="11" rx="1.5"/><text class="bt" x="400" y="555.2">OPTOCHIN</text></g>
<g id="br-quellung"><rect class="wb" x="372" y="566" width="56" height="11" rx="1.5"/><text class="bt" x="400" y="573.2">QUELLUNG REACTION</text></g>
<g id="br-pneumo"><rect class="lp" x="335" y="584" width="57" height="11" rx="1.5"/><text class="pt" x="363.5" y="591">S. pneumoniae</text><text class="tiny" x="338" y="599">• Pneumonia lobar/gly</text></g>
<g id="br-viridans"><rect class="lp" x="411" y="584" width="57" height="11" rx="1.5"/><text class="pt" x="439.5" y="591">S. viridans</text><text class="tiny" x="414" y="599">• Dental infection</text><text class="tiny" x="414" y="602">• Endocarditis</text></g>
<g id="br-pyr1"><rect class="wb" x="496" y="530" width="57" height="11" rx="1.5"/><text class="bt" x="524.5" y="537.2">PYR TEST</text></g>
<g id="br-bac"><rect class="wb" x="496" y="548" width="57" height="11" rx="1.5"/><text class="bt" x="524.5" y="555.2">BACITRACIN</text></g>
<g id="br-sxt"><rect class="wb" x="496" y="566" width="57" height="11" rx="1.5"/><text class="bt" x="524.5" y="573.2">SXT</text></g>
<g id="br-hipp"><rect class="wb" x="496" y="584.5" width="57" height="11" rx="1.5"/><text class="bt" x="524.5" y="591.7">SODIUM HIPPURATE</text></g>
<g id="br-camp"><rect class="wb" x="496" y="603" width="57" height="11" rx="1.5"/><text class="bt" x="524.5" y="610.2">CAMP TEST</text></g>
<g id="br-grpA"><rect class="lp" x="459" y="627" width="58" height="15" rx="1.5"/><text class="pt" x="488" y="634" font-style="normal">Streptococci Group A</text><text class="st" x="488" y="639">S. pyogenes</text>
<text class="tiny" x="463" y="645.5">• Acute Glomerulonephritis</text><text class="tiny" x="463" y="648.5">• Rheumatic Fever</text><text class="tiny" x="463" y="651.5">• Streptococcal Throat</text><text class="tiny" x="463" y="654.5">• Never resistant to PCN</text></g>
<g id="br-grpB"><rect class="lp" x="533" y="627" width="56" height="15" rx="1.5"/><text class="pt" x="561" y="634" font-style="normal">Streptococci Group B</text><text class="st" x="561" y="639">S. agalactiae</text>
<text class="tiny" x="538" y="645.5">• Neonatal Sepsis</text><text class="tiny" x="538" y="648.5">• Neonatal Meningitis</text></g>
<g id="br-pyr2"><rect class="wb" x="640" y="530" width="56" height="11" rx="1.5"/><text class="bt" x="668" y="537.2">PYR TEST</text></g>
<g id="br-bile"><rect class="wb" x="640" y="548" width="56" height="11" rx="1.5"/><text class="bt" x="668" y="555.2">BILE ESCULIN</text></g>
<g id="br-nacl"><rect class="wb" x="640" y="566" width="56" height="11" rx="1.5"/><text class="bt" x="668" y="573.2">6.5% NaCl GROWTH</text></g>
<g id="br-pen"><rect class="wb" x="640" y="584.5" width="56" height="11" rx="1.5"/><text class="bt" x="668" y="591.7">PENICILLIN</text></g>
<g id="br-entero"><rect class="lp" x="603" y="603" width="58" height="15" rx="1.5"/><text class="pt" x="632" y="612">Enterococci spp.</text><text class="tiny" x="606" y="622">• some may be resistant to vancomycin</text></g>
<g id="br-grpD"><rect class="lp" x="676" y="603" width="56" height="15" rx="1.5"/><text class="pt" x="704" y="609.5" font-style="normal">Streptococci Group D</text><text class="st" x="704" y="614.5">S. bovis</text><text class="tiny" x="680" y="622">• Nonenterococcal Urinary Tract Infection</text></g>
<g id="br-notes">
<text class="hw" x="341" y="605">+ in many things?</text>
<text class="hw" x="417" y="608">– in many things?</text>
<text class="hw" x="434" y="634" font-size="2.6">PYR+</text><text class="hw" x="433" y="638" font-size="2.6">B. bacitracin</text><path class="hwl" d="M448,633 h10"/>
<path class="hwl" d="M589,630 q4,2 5,5"/><text class="hw" x="592" y="639" font-size="2.6">sodium</text><text class="hw" x="592" y="643" font-size="2.6">hippurate</text><text class="hw" x="592" y="647" font-size="2.6">camp test</text>
</g>
</svg>
